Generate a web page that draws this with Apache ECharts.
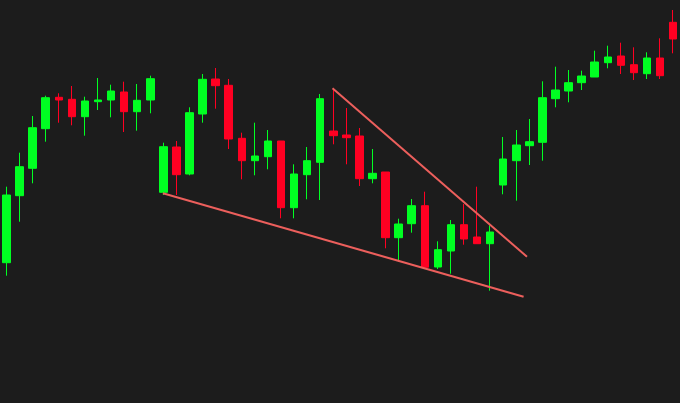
<!DOCTYPE html>
<html>
<head>
<meta charset="utf-8">
<script src="https://cdn.jsdelivr.net/npm/echarts@6/dist/echarts.min.js"></script>
<style>
html,body{margin:0;padding:0;background:#1c1c1c;}
#c{width:680px;height:403px;}
</style>
</head>
<body>
<div id="c"></div>
<script>
// candle values: open, close, low, high
const opens  = [140.3,207.3,234.7,274.3,305.7,303.7,286.3,301.3,303,311,291.3,303,210.7,256,229,289,324,317.7,264.7,242.3,246.3,262,195.3,228.3,240.7,272,268,267,224.3,231,165.3,179.3,197.3,136,152,178.3,166,159.3,218,242.3,257.3,260.7,304.3,312,320.3,326,340.3,347,338.3,329.3,345,380.7];
const closes = [208,236.3,275.3,305.3,303,286.3,302,303,312,291.3,302.7,324.3,256.3,228.3,290.3,323.7,317.3,264,242.3,247,262,195.3,229,242.3,304.3,267.3,265.3,224.3,229.7,165.3,179,197.3,135.7,153.3,178.3,164,159.3,171,244,258,261.3,305.3,313,320.3,327,341,346,337.7,330.3,345,327.3,364];
const lows   = [127.3,181.3,219.7,261.3,280.3,277.7,267.3,293,285.7,271,272.3,289.7,208,208,227.7,280.3,294.3,254,223.7,227.7,233.7,184.7,184.7,203.7,203,258.7,238.7,217,219.7,154.7,141.3,170.3,135.7,134,129.3,158.3,159.3,112.3,208.7,202.3,238,242.3,295.7,300.7,313,326,334.7,329,323,324,324,349.7];
const highs  = [216.3,250.3,287,307.3,309.7,317,306.3,325,318.3,321.3,319,327.3,260.3,262,295.7,329,335,324,270.3,280.3,273,262,238.7,256,309,314.7,295,275,254,231,184.3,204,211.3,161.7,183,199,216.3,177.7,266,273,284,321.7,336.3,333,332.3,352.3,357.3,360.3,355.7,350.7,364.7,393];
const categories = opens.map((_, i) => 'D' + (i + 1));
// trend lines: [category position, price]
const upperLine = [[24.94, 314.7], [39.82, 146.3]];
const lowerLine = [[11.96, 209.7], [39.56, 106.3]];

const candleData = opens.map((o, i) => [o, closes[i], lows[i], highs[i]]);

const chart = echarts.init(document.getElementById('c'));
chart.setOption({
  backgroundColor: '#1c1c1c',
  animation: false,
  grid: { left: -1.55, width: 681.2, top: 0, bottom: 0 },
  xAxis: [
    { type: 'category', data: categories, boundaryGap: true, show: false },
    { type: 'value', min: -0.5, max: 51.5, show: false }
  ],
  yAxis: { type: 'value', min: 0, max: 403, show: false, splitLine: { show: false } },
  series: [
    {
      type: 'candlestick',
      xAxisIndex: 0,
      data: candleData,
      barWidth: 8,
      itemStyle: {
        color: '#00ff22',
        color0: '#ff0022',
        borderColor: '#00ff22',
        borderColor0: '#ff0022',
        borderWidth: 1
      }
    },
    {
      type: 'line', xAxisIndex: 1, data: upperLine, symbol: 'none',
      lineStyle: { color: '#ec5f5c', width: 2 }
    },
    {
      type: 'line', xAxisIndex: 1, data: lowerLine, symbol: 'none',
      lineStyle: { color: '#ec5f5c', width: 2 }
    }
  ]
});
</script>
</body>
</html>
